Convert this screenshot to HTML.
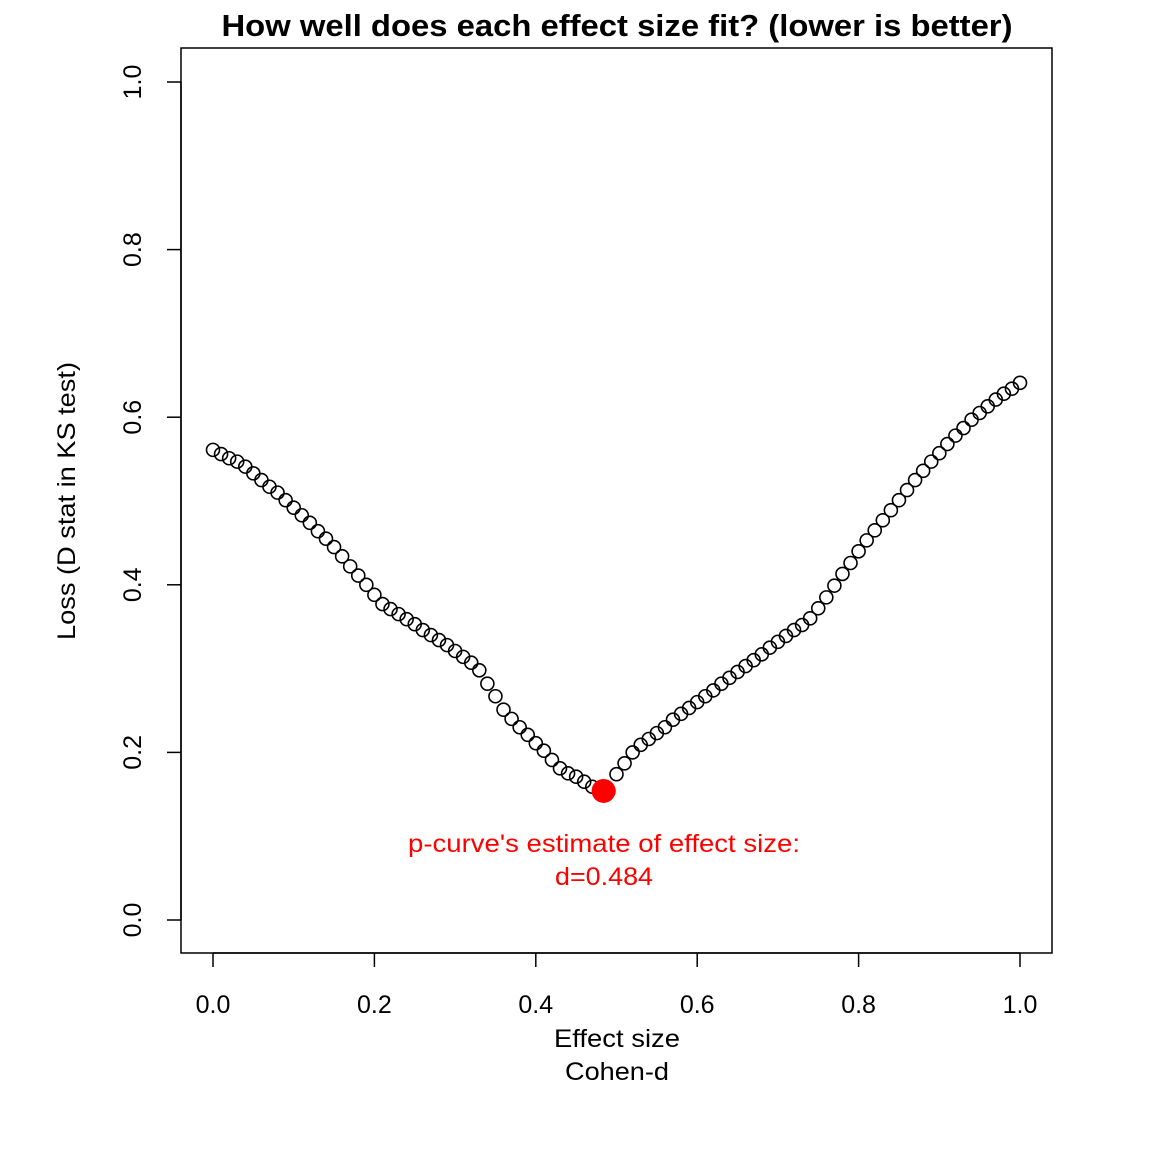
<!DOCTYPE html>
<html><head><meta charset="utf-8"><style>
body{margin:0;background:#fff}
svg{display:block;font-family:"Liberation Sans",Arial,sans-serif}
</style></head><body>
<svg id="chart" width="1152" height="1152">
<rect width="1152" height="1152" fill="#fff"/>
<text x="617" y="36" text-anchor="middle" font-size="31" font-weight="bold" textLength="791" lengthAdjust="spacingAndGlyphs">How well does each effect size fit? (lower is better)</text>
<rect x="181" y="48" width="871" height="905" fill="none" stroke="#000" stroke-width="1.5"/>
<g id="xaxis"></g>
<g id="yaxis"></g>
<text x="617" y="1047" text-anchor="middle" font-size="25" textLength="126" lengthAdjust="spacingAndGlyphs">Effect size</text>
<text x="617" y="1080" text-anchor="middle" font-size="25" textLength="104" lengthAdjust="spacingAndGlyphs">Cohen-d</text>
<text transform="translate(75,501) rotate(-90)" text-anchor="middle" font-size="25" textLength="278" lengthAdjust="spacingAndGlyphs">Loss (D stat in KS test)</text>
<g id="points"></g>
<text x="604" y="852" text-anchor="middle" font-size="25" fill="#ff0000" textLength="392" lengthAdjust="spacingAndGlyphs">p-curve's estimate of effect size:</text>
<text x="604" y="885" text-anchor="middle" font-size="25" fill="#ff0000" textLength="98" lengthAdjust="spacingAndGlyphs">d=0.484</text>
</svg>
<script>
const effectSizes = Array.from({length:101},(_, i)=>+(i/100).toFixed(2));
const lossValues = [0.561,0.556,0.551,0.547,0.541,0.533,0.525,0.517,0.510,0.501,0.492,0.483,0.474,0.464,0.455,0.445,0.434,0.422,0.411,0.400,0.388,0.377,0.371,0.365,0.359,0.353,0.346,0.340,0.334,0.328,0.321,0.314,0.307,0.298,0.282,0.267,0.251,0.240,0.230,0.221,0.211,0.202,0.191,0.181,0.175,0.171,0.165,0.159,0.155,0.154,0.174,0.187,0.200,0.209,0.216,0.223,0.230,0.239,0.246,0.253,0.260,0.267,0.274,0.282,0.289,0.296,0.303,0.310,0.317,0.325,0.332,0.339,0.346,0.352,0.360,0.372,0.385,0.399,0.413,0.426,0.440,0.453,0.465,0.477,0.489,0.501,0.513,0.525,0.536,0.547,0.557,0.568,0.578,0.587,0.597,0.605,0.613,0.621,0.628,0.634,0.641];
const xTicks = [0,0.2,0.4,0.6,0.8,1.0];
const xTickLabels = ["0.0","0.2","0.4","0.6","0.8","1.0"];
const yTicks = [0,0.2,0.4,0.6,0.8,1.0];
const yTickLabels = ["0.0","0.2","0.4","0.6","0.8","1.0"];
const estimateD = [0.484];
const estimateLoss = [0.154];
const NS='http://www.w3.org/2000/svg';
const sx = v => 213 + v*807;
const sy = v => 920 - v*838;
function mk(t,a,p){const e=document.createElementNS(NS,t);for(const k in a)e.setAttribute(k,a[k]);p.appendChild(e);return e;}
const xa=document.getElementById('xaxis');
let l=mk('line',{x1:sx(0),x2:sx(1),y1:953,y2:953,stroke:'#000','stroke-width':1.5},xa);


xTicks.forEach((v,i)=>{
  const t=mk('line',{x1:sx(v),x2:sx(v),y1:953,y2:967,stroke:'#000','stroke-width':1.5},xa);
  
  
  const tx=mk('text',{x:sx(v),y:1013,'text-anchor':'middle','font-size':25},xa);
  tx.textContent=xTickLabels[i];
  
  
});
const ya=document.getElementById('yaxis');
l=mk('line',{x1:181,x2:181,y1:sy(0),y2:sy(1),stroke:'#000','stroke-width':1.5},ya);


yTicks.forEach((v,i)=>{
  const t=mk('line',{x1:167,x2:181,y1:sy(v),y2:sy(v),stroke:'#000','stroke-width':1.5},ya);
  
  
  const tx=mk('text',{transform:`translate(141,${sy(v)}) rotate(-90)`,'text-anchor':'middle','font-size':25},ya);
  tx.textContent=yTickLabels[i];
  
  
});
const pg=document.getElementById('points');
effectSizes.forEach((d,i)=>{
  const c=mk('circle',{cx:sx(d),cy:sy(lossValues[i]),r:6.5,fill:'none',stroke:'#000','stroke-width':1.6},pg);
  
  
});
estimateD.forEach((d,i)=>{
  const c=mk('circle',{cx:sx(d),cy:sy(estimateLoss[i]),r:12,fill:'#ff0000'},pg);
  
  
});
</script>
</body></html>
